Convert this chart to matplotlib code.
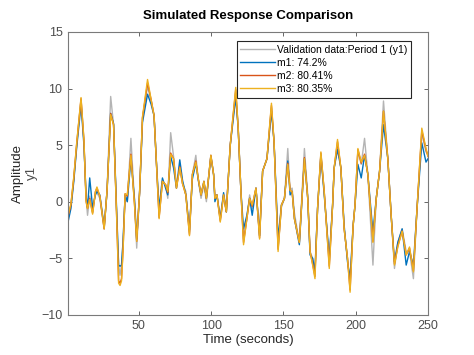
import matplotlib
matplotlib.use("Agg")
import matplotlib.pyplot as plt

# sample times (seconds) and responses
t = [1, 3, 5, 7, 10, 12, 13.5, 14.5, 16, 18, 20, 21, 23, 26, 28, 30.5, 32.5,
     34.5, 36, 37, 38, 39, 40.5, 42, 44.5, 47, 48.5, 50.5, 52.5, 56, 58.5,
     60.5, 62, 64, 66.3, 68.5, 70, 72, 74, 76, 78.3, 80.2, 82.5, 85, 87,
     89.4, 91, 93, 95, 96.7, 99.8, 101.7, 102.6, 104, 106.3, 108.6, 110.5,
     113.2, 117, 118.7, 120.6, 122.4, 124.7, 126.6, 128.4, 131, 133.5, 135.6,
     138.6, 141.7, 143.5, 146.3, 148.6, 150.7, 153, 154.6, 156, 157.6, 161,
     164.5, 166.8, 168.4, 170.2, 171.8, 173.6, 175.9, 178.2, 181.7, 184,
     185.1, 187.4, 189.7, 192, 194.3, 196.1, 198.2, 199.5, 201.5, 203.8,
     206.1, 208.4, 211.9, 214.2, 216.5, 219.2, 222.2, 224.5, 226.8, 229.1,
     232.1, 234.9, 237.2, 239.9, 242.4, 245.7, 248.6, 250]

validation = [-1.5, -0.3, 2.0, 5.0, 9.0, 5.3, 0.3, -1.2, 0.5, -0.9, 0.9, 0.8,
              0.3, -2.4, 1.0, 9.3, 6.8, -0.6, -5.6, -6.5, -5.6, -3.8, 0.6, 0.0,
              5.6, 0.0, -4.1, 0.9, 7.4, 10.2, 8.9, 7.7, 3.8, -1.2, 1.8, 1.5,
              0.3, 6.1, 4.0, 1.4, 3.0, 1.6, 0.9, -2.7, 2.4, 4.1, 2.0, 0.3, 1.5,
              0.0, 4.1, 2.4, 0.6, 0.6, -1.5, 0.6, -0.9, 5.0, 9.6, 6.5, 0.9,
              -3.3, -1.5, 0.6, -0.6, 1.2, -3.0, 2.7, 3.8, 8.3, 5.3, -4.0, -0.5,
              0.3, 4.7, 1.0, 1.2, -1.0, -3.6, 4.7, 0.6, -4.4, -5.0, -6.0, -0.6,
              4.1, 0.9, -5.3, -0.3, 3.0, 5.0, 3.0, -2.4, -5.0, -7.2, -2.1, -0.3,
              4.5, 3.3, 5.6, 2.4, -5.6, 0.3, 2.7, 8.9, 3.8, -1.2, -5.9, -3.6,
              -2.4, -4.4, -4.4, -6.8, -0.6, 6.0, 4.4, 4.2]

m1 = [-1.8, -0.6, 1.8, 4.8, 8.6, 5.0, 0.5, -0.5, 2.1, -0.5, 0.6, 0.9, 0.6,
      -2.2, 0.9, 7.8, 6.9, -0.3, -5.6, -5.7, -5.6, -3.6, 0.6, 0.0, 3.8, 0.2,
      -3.3, 0.8, 7.0, 9.5, 8.6, 7.6, 3.8, -0.6, 2.1, 1.2, 0.6, 4.0, 3.0, 1.2,
      3.7, 1.9, 0.6, -2.5, 2.0, 3.4, 2.0, 0.6, 1.8, 0.3, 4.0, 2.4, 0.0, 0.6,
      -1.5, 0.8, -0.9, 5.0, 9.2, 6.5, 0.9, -2.4, -1.2, 0.3, -1.2, 1.2, -3.0,
      2.7, 3.8, 8.0, 5.3, -3.3, -0.3, 0.3, 3.6, 0.6, 0.9, -1.5, -3.8, 3.8,
      0.3, -4.7, -5.0, -6.2, -0.6, 4.1, 0.6, -5.0, -0.3, 3.0, 4.6, 3.0, -2.1,
      -5.3, -6.8, -2.1, -0.3, 3.3, 2.1, 4.1, 2.4, -2.7, 0.3, 2.7, 6.8, 3.8,
      -1.2, -5.3, -3.6, -2.4, -5.6, -4.4, -5.6, -0.6, 5.2, 3.5, 3.8]

m2 = [-1.3, -0.3, 2.1, 5.1, 9.1, 5.4, 0.1, -0.6, 0.3, -1.0, 0.9, 1.2, 0.5,
      -2.4, 1.0, 7.8, 6.8, -0.7, -7.0, -7.2, -6.8, -4.4, 0.7, 0.5, 4.2, -0.2,
      -3.5, 0.8, 7.4, 10.5, 9.0, 7.6, 3.8, -1.4, 1.8, 1.5, 0.8, 4.3, 3.8, 1.2,
      3.1, 1.6, 0.6, -2.9, 2.4, 3.6, 2.1, 0.6, 1.8, 0.3, 4.1, 2.4, 0.3, 0.6,
      -1.7, 0.6, -0.9, 5.0, 9.9, 6.5, 0.9, -3.6, -1.5, 0.3, -0.4, 1.2, -3.2,
      2.7, 3.8, 8.5, 5.3, -4.2, -0.3, 0.3, 3.4, 1.0, 0.9, -1.5, -3.6, 3.9,
      0.3, -4.4, -5.5, -6.6, -0.6, 4.3, 0.9, -5.7, -0.3, 3.0, 5.3, 3.0, -2.4,
      -5.0, -7.8, -2.1, -0.3, 4.6, 3.4, 4.2, 2.4, -3.5, 0.3, 2.7, 8.0, 3.8,
      -1.2, -5.5, -3.9, -2.6, -4.7, -4.1, -6.1, -0.6, 6.3, 4.6, 4.0]

m3 = [-1.2, -0.2, 2.2, 5.2, 9.2, 5.5, 0.0, -0.6, 0.2, -1.1, 0.9, 1.3, 0.5,
      -2.4, 1.0, 7.7, 6.8, -0.8, -7.2, -7.4, -7.0, -4.5, 0.7, 0.6, 4.1, -0.3,
      -3.5, 0.8, 7.5, 10.8, 9.0, 7.6, 3.8, -1.5, 1.8, 1.5, 0.9, 4.2, 3.8, 1.2,
      3.0, 1.6, 0.6, -3.0, 2.4, 3.5, 2.1, 0.6, 1.8, 0.3, 4.1, 2.4, 0.3, 0.6,
      -1.8, 0.6, -0.9, 5.0, 10.1, 6.5, 0.9, -3.8, -1.5, 0.3, -0.3, 1.2, -3.3,
      2.7, 3.8, 8.7, 5.3, -4.4, -0.3, 0.3, 3.3, 1.0, 0.9, -1.5, -3.6, 3.8,
      0.3, -4.4, -5.6, -6.8, -0.6, 4.4, 0.9, -5.9, -0.3, 3.0, 5.5, 3.0, -2.4,
      -5.0, -8.0, -2.1, -0.3, 4.7, 3.5, 4.1, 2.4, -3.6, 0.3, 2.7, 8.0, 3.8,
      -1.2, -5.6, -4.0, -2.6, -4.7, -4.0, -6.2, -0.6, 6.5, 4.7, 4.0]

labels = ["Validation data:Period 1 (y1)", "m1: 74.2%", "m2: 80.41%", "m3: 80.35%"]
colors = ["#b4b4b4", "#0072bd", "#d95319", "#edb120"]

plt.rcParams["font.family"] = ["Liberation Sans", "DejaVu Sans"]

fig = plt.figure(figsize=(4.74, 3.55), dpi=100)
ax = fig.add_axes([0.1435, 0.113, 0.7595, 0.797])

for ys, c, lab in zip([validation, m1, m2, m3], colors, labels):
    ax.plot(t, ys, color=c, lw=1.0, label=lab)

ax.set_xlim(1, 250)
ax.set_ylim(-10, 15)
ax.set_xticks([50, 100, 150, 200, 250])
ax.set_yticks([-10, -5, 0, 5, 10, 15])

ax.tick_params(direction="in", top=True, right=True, length=3, width=0.6,
               labelsize=9, labelcolor="#4d4d4d", color="#4d4d4d", pad=4)
for s in ax.spines.values():
    s.set_color("#7a7a7a")
    s.set_linewidth(0.8)

ax.set_xlabel("Time (seconds)", fontsize=9.5, color="#262626", labelpad=1)
ax.set_ylabel("y1", fontsize=9.5, color="#4d4d4d")
ax.yaxis.set_label_coords(-0.083, 0.5)
fig.text(0.038, 0.51, "Amplitude", rotation=90, ha="center", va="center",
         fontsize=9.5, color="#262626")
ax.set_title("Simulated Response Comparison", fontsize=9.5, fontweight="bold",
             pad=9)

leg = ax.legend(loc="upper right", bbox_to_anchor=(0.952, 0.968), fontsize=7.5,
                frameon=True, fancybox=False, framealpha=1, borderpad=0.35,
                handlelength=3.3, handletextpad=0.2, labelspacing=0.3,
                borderaxespad=0)
leg.get_frame().set_edgecolor("#262626")
leg.get_frame().set_linewidth(0.8)

fig.savefig("out.png", dpi=100)
